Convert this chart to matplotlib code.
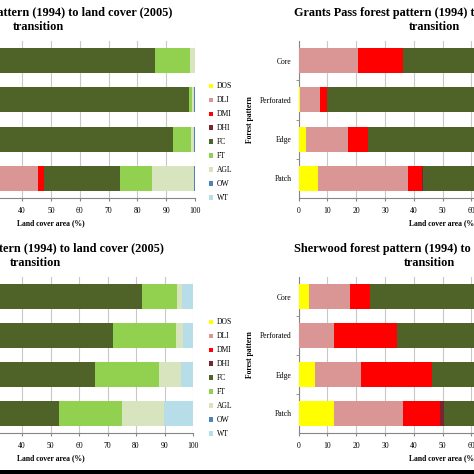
import matplotlib
matplotlib.use("Agg")
import matplotlib.pyplot as plt
from matplotlib.patches import Patch, Rectangle

plt.rcParams['font.family'] = ['Liberation Serif', 'DejaVu Serif']

patterns = ['Core', 'Perforated', 'Edge', 'Patch']
classes = ['DOS', 'DLI', 'DMI', 'DHI', 'FC', 'FT', 'AGL', 'OW', 'WT']
colors = ['#FFFF00', '#D99694', '#FF0000', '#7B2330', '#4F6228',
          '#92D050', '#D7E4BD', '#4F81BD', '#B7DEE8']

# percent of each 1994 forest pattern going to each 2005 land cover class
# rows follow `patterns`, columns follow `classes`
roseburg = [
    [0, 0, 0, 0, 86.0, 12.4, 1.6, 0, 0],
    [0, 0, 0, 0, 98.0, 1.1, 0.6, 0.3, 0],
    [0, 0, 0, 0, 92.3, 6.4, 1.0, 0.3, 0],
    [4.0, 41.5, 2.2, 0, 26.4, 11.0, 14.7, 0.2, 0],
]
grants_pass = [
    [0, 20.7, 15.5, 0, 55.0, 7.0, 1.8, 0, 0],
    [0.6, 7.0, 2.3, 0, 80.0, 8.0, 2.1, 0, 0],
    [2.7, 14.4, 7.0, 0, 65.0, 9.0, 1.9, 0, 0],
    [6.8, 31.2, 4.9, 0.3, 45.0, 8.0, 3.8, 0, 0],
]
eugene = [
    [0, 0, 0, 0, 82.0, 12.5, 1.5, 0, 4.0],
    [0, 0, 0, 0, 72.0, 22.0, 2.6, 0, 3.4],
    [0, 0, 0, 0, 65.6, 22.5, 7.7, 0, 4.2],
    [0, 0, 0, 0, 53.1, 22.1, 14.6, 0, 10.2],
]
sherwood = [
    [3.5, 14.3, 6.9, 0, 70.0, 5.3, 0, 0, 0],
    [0, 12.2, 22.0, 0, 60.0, 5.8, 0, 0, 0],
    [5.8, 16.0, 24.6, 0, 48.0, 5.6, 0, 0, 0],
    [12.2, 24.1, 12.9, 1.2, 44.0, 5.6, 0, 0, 0],
]

W = 474.0


def px_axes(left, top, width, height):
    return [left / W, 1 - (top + height) / W, width / W, height / W]


def draw_panel(ax, data):
    left = [0.0] * len(patterns)
    for j, cls in enumerate(classes):
        vals = [row[j] for row in data]
        ax.barh(patterns, vals, left=left, height=0.64, color=colors[j],
                label=cls, zorder=3)
        left = [a + b for a, b in zip(left, vals)]
    ax.set_xlim(0, 100)
    ax.set_ylim(3.5, -0.5)
    ax.set_xticks(range(0, 101, 10))
    ax.grid(axis='x', color='#C8C8C8', linewidth=0.8, zorder=0)
    for s in ['top', 'right']:
        ax.spines[s].set_visible(False)
    for s in ['left', 'bottom']:
        ax.spines[s].set_color('#868686')
        ax.spines[s].set_linewidth(0.8)
    ax.tick_params(axis='x', labelsize=5.5, length=2.5, color='#868686',
                   pad=4)
    ax.tick_params(axis='y', labelsize=5.5, length=0, pad=5)
    ax.set_yticks([0.5, 1.5, 2.5], minor=True)
    ax.tick_params(axis='y', which='minor', length=2.5, color='#868686')
    ax.set_xlabel('Land cover area (%)', fontsize=5.5, fontweight='bold',
                  labelpad=3)
    ax.set_ylabel('Forest pattern', fontsize=5.5, fontweight='bold',
                  labelpad=4)


fig = plt.figure(figsize=(4.74, 4.74), dpi=100)

ax_tl = fig.add_axes(px_axes(-93.3, 41, 288.3, 157))
ax_tr = fig.add_axes(px_axes(298.5, 41, 288.3, 157))
ax_bl = fig.add_axes(px_axes(-92, 277, 285, 156))
ax_br = fig.add_axes(px_axes(298.5, 277, 288.3, 156))

draw_panel(ax_tl, roseburg)
draw_panel(ax_tr, grants_pass)
draw_panel(ax_bl, eugene)
draw_panel(ax_br, sherwood)

titles = [
    ('Roseburg forest pattern (1994) to land cover (2005)\ntransition', 38, 20),
    ('Grants Pass forest pattern (1994) to land cover (2005)\ntransition', 434.5, 20),
    ('Eugene forest pattern (1994) to land cover (2005)\ntransition', 35, 256),
    ('Sherwood forest pattern (1994) to land cover (2005)\ntransition', 429.5, 256),
]
for text, cx, cy in titles:
    fig.text(cx / W, 1 - cy / W, text, ha='center', va='center',
             multialignment='center', fontsize=8.8, fontweight='bold',
             linespacing=1.3)

handles = [Patch(facecolor=c, edgecolor='none') for c in colors]
for top in [82.5, 318.5]:
    fig.legend(handles, classes, loc='upper left',
               bbox_to_anchor=(209 / W, 1 - top / W), frameon=False,
               fontsize=5.5, handlelength=0.5, handleheight=0.5,
               handletextpad=0.5, labelspacing=0.78, borderaxespad=0,
               borderpad=0)

fig.patches.append(Rectangle((0, 0), 1, 4.5 / W, transform=fig.transFigure,
                             facecolor='black', edgecolor='none'))

fig.savefig('out.png', dpi=100)
